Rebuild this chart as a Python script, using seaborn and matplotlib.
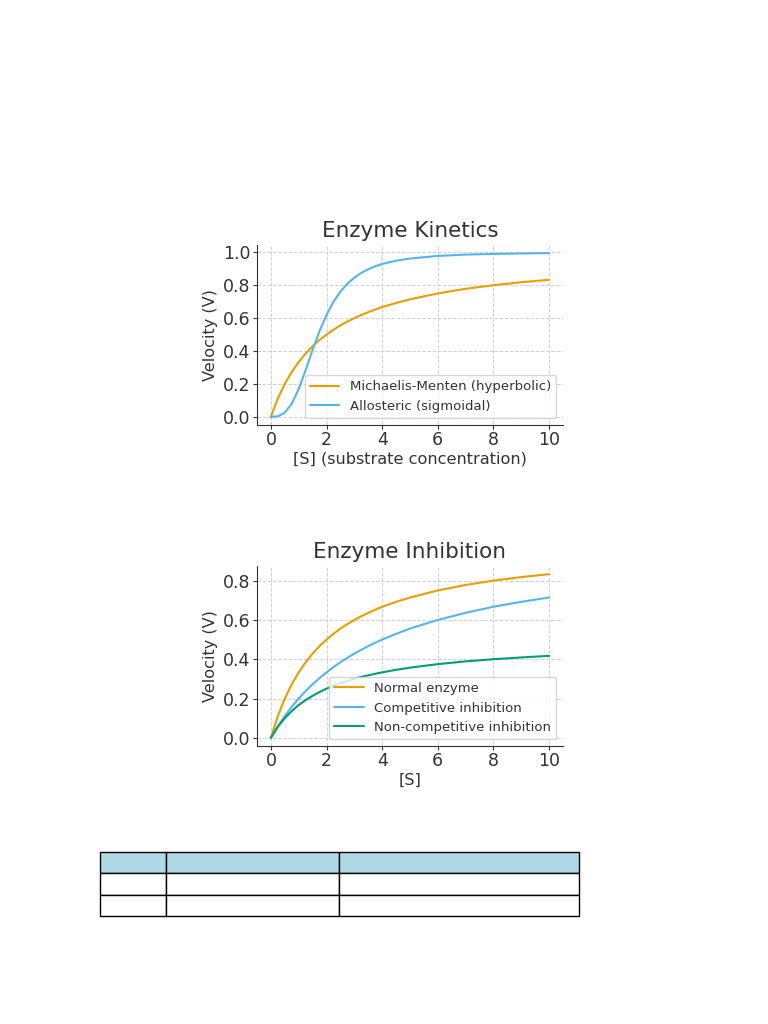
import matplotlib
matplotlib.use("Agg")

import matplotlib.pyplot as plt
import seaborn as sns

# substrate concentration sample points
S = [0, 0.25, 0.5, 0.75, 1, 1.25, 1.5, 1.75, 2, 2.25, 2.5, 2.75, 3, 3.25,
     3.5, 3.75, 4, 4.5, 5, 6, 7, 8, 9, 10]

# values
v_mm = [0, 0.111, 0.2, 0.273, 0.333, 0.385, 0.429, 0.467, 0.5, 0.529, 0.556,
        0.579, 0.6, 0.619, 0.636, 0.652, 0.667, 0.692, 0.714, 0.75, 0.778,
        0.8, 0.818, 0.833]
v_allo = [0, 0.003, 0.025, 0.079, 0.169, 0.284, 0.407, 0.522, 0.619, 0.699,
          0.761, 0.809, 0.846, 0.875, 0.897, 0.915, 0.929, 0.949, 0.962,
          0.978, 0.986, 0.99, 0.993, 0.995]
v_comp = [0, 0.059, 0.111, 0.158, 0.2, 0.238, 0.273, 0.304, 0.333, 0.36,
          0.385, 0.407, 0.429, 0.448, 0.467, 0.484, 0.5, 0.529, 0.556, 0.6,
          0.636, 0.667, 0.692, 0.714]
v_noncomp = [0, 0.056, 0.1, 0.136, 0.167, 0.192, 0.214, 0.233, 0.25, 0.265,
             0.278, 0.289, 0.3, 0.31, 0.318, 0.326, 0.333, 0.346, 0.357,
             0.375, 0.389, 0.4, 0.409, 0.417]

table_header = ["", "", ""]
table_rows = [["", "", ""], ["", "", ""]]
table_col_widths = [66, 173, 240]

ORANGE = "#E69F00"
BLUE = "#56B4E9"
GREEN = "#009E73"
TEXT = "#333333"

sns.set_style("whitegrid", {
    "grid.color": "#d0d0d0",
    "grid.linestyle": "--",
    "axes.edgecolor": "#333333",
    "axes.linewidth": 1.0,
    "xtick.bottom": True,
    "ytick.left": True,
})
plt.rcParams["font.family"] = ["DejaVu Sans"]
plt.rcParams.update({
    "text.color": TEXT,
    "axes.labelcolor": TEXT,
    "xtick.color": TEXT,
    "ytick.color": TEXT,
    "grid.linewidth": 0.7,
})

fig = plt.figure(figsize=(7.68, 10.24), dpi=100)


def style_axes(ax):
    sns.despine(ax=ax)
    ax.tick_params(labelsize=12.5, length=3, width=0.8, pad=1.5)
    ax.set_xticks([0, 2, 4, 6, 8, 10])
    ax.xaxis.labelpad = 2


# ---------------------------------------------------------------------------
# Enzyme kinetics
# ---------------------------------------------------------------------------
ax1 = fig.add_axes([0.3346, 0.585, 0.3984, 0.1758])
sns.lineplot(x=S, y=v_mm, ax=ax1, color=ORANGE, lw=1.5,
             label="Michaelis-Menten (hyperbolic)")
sns.lineplot(x=S, y=v_allo, ax=ax1, color=BLUE, lw=1.5,
             label="Allosteric (sigmoidal)")
ax1.set_yticks([0.0, 0.2, 0.4, 0.6, 0.8, 1.0])
ax1.set_title("Enzyme Kinetics", fontsize=15.5, color=TEXT)
ax1.set_xlabel("[S] (substrate concentration)", fontsize=11.6)
ax1.set_ylabel("Velocity (V)", fontsize=11.6)
style_axes(ax1)
ax1.legend(loc="lower right", fontsize=9.5, frameon=True, edgecolor="#cccccc",
           borderaxespad=0.5, handlelength=2.2)

# ---------------------------------------------------------------------------
# Enzyme inhibition
# ---------------------------------------------------------------------------
ax2 = fig.add_axes([0.3346, 0.2715, 0.3984, 0.1758])
sns.lineplot(x=S, y=v_mm, ax=ax2, color=ORANGE, lw=1.5, label="Normal enzyme")
sns.lineplot(x=S, y=v_comp, ax=ax2, color=BLUE, lw=1.5,
             label="Competitive inhibition")
sns.lineplot(x=S, y=v_noncomp, ax=ax2, color=GREEN, lw=1.5,
             label="Non-competitive inhibition")
ax2.set_yticks([0.0, 0.2, 0.4, 0.6, 0.8])
ax2.set_title("Enzyme Inhibition", fontsize=15.5, color=TEXT)
ax2.set_xlabel("[S]", fontsize=11.6)
ax2.set_ylabel("Velocity (V)", fontsize=11.6)
style_axes(ax2)
ax2.legend(loc="lower right", fontsize=9.5, frameon=True, edgecolor="#cccccc",
           borderaxespad=0.5, handlelength=2.2)

# ---------------------------------------------------------------------------
# Empty summary table
# ---------------------------------------------------------------------------
ax3 = fig.add_axes([0.1302, 0.1055, 0.6237, 0.0625])
ax3.axis("off")
total = sum(table_col_widths)
tbl = ax3.table(cellText=table_rows, colLabels=table_header,
                colWidths=[w / total for w in table_col_widths],
                bbox=[0, 0, 1, 1], cellLoc="center")
for (r, c), cell in tbl.get_celld().items():
    cell.set_edgecolor("black")
    cell.set_linewidth(1.0)
    if r == 0:
        cell.set_facecolor("#ADD8E6")

fig.savefig("out.png", dpi=100)
